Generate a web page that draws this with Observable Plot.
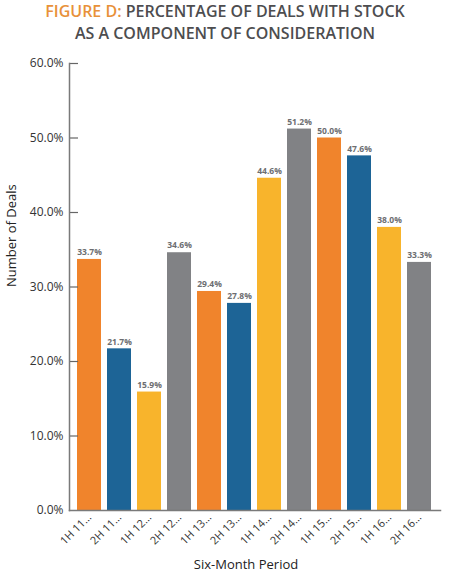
<!DOCTYPE html>
<html>
<head>
<meta charset="utf-8">
<script src="https://cdn.jsdelivr.net/npm/d3@7"></script>
<script src="https://cdn.jsdelivr.net/npm/@observablehq/plot@0.6"></script>
<style>
  html, body { margin: 0; padding: 0; background: #fff; }
  #title { height: 50px; box-sizing: border-box; padding-top: 0px; text-align: center;
    font-family: "Open Sans", sans-serif; font-weight: 600; font-size: 16px; color: #4d4d4f; }
  #title div { line-height: 22px; height: 22px; }
  #title .fig { color: #e8913a; }
</style>
</head>
<body>
<div id="title"><div><span class="fig">FIGURE D:</span> PERCENTAGE OF DEALS WITH STOCK</div><div>AS A COMPONENT OF CONSIDERATION</div></div>
<div id="chart"></div>
<script>
const periods = ["1H 11", "2H 11", "1H 12", "2H 12", "1H 13", "2H 13", "1H 14", "2H 14", "1H 15", "2H 15", "1H 16", "2H 16"];
const tickLabels = ["1H 11…", "2H 11…", "1H 12…", "2H 12…", "1H 13…", "2H 13…", "1H 14…", "2H 14…", "1H 15…", "2H 15…", "1H 16…", "2H 16…"];
const values = [33.7, 21.7, 15.9, 34.6, 29.4, 27.8, 44.6, 51.2, 50.0, 47.6, 38.0, 33.3];
const barColors = ["#f0842c", "#1d6496", "#f8b42c", "#818285", "#f0842c", "#1d6496", "#f8b42c", "#818285", "#f0842c", "#1d6496", "#f8b42c", "#818285"];
const yTicks = [0, 10, 20, 30, 40, 50, 60];
const yTitle = "Number of Deals";
const xTitle = "Six-Month Period";

const data = periods.map((p, i) => ({period: p, value: values[i], color: barColors[i]}));
const labelOf = new Map(periods.map((p, i) => [p, tickLabels[i]]));

const W = 450, H = 531, mL = 69, mR = 10;
const plot = Plot.plot({
  width: W,
  height: H,
  marginTop: 13,
  marginBottom: 71,
  marginLeft: mL,
  marginRight: mR,
  style: {fontFamily: "Open Sans, sans-serif", color: "#333"},
  x: {domain: periods, paddingInner: 0.19, paddingOuter: 0.11, label: null},
  y: {domain: [0, 60], label: null},
  marks: [
    Plot.barY(data, {x: "period", y: "value", fill: "color"}),
    Plot.text(data, {x: "period", y: "value", text: d => d.value.toFixed(1) + "%", dy: -7,
      fontSize: 8.5, fontWeight: "bold", fill: "#6d6e71"}),
    Plot.axisY(yTicks, {tickSize: 0, tickPadding: 6, tickFormat: d => d.toFixed(1) + "%", fontSize: 12, fill: "#333", label: null}),
    Plot.tickY(yTicks.slice(1), {y: d => d, stroke: "#666", strokeWidth: 1.2, insetRight: W - mL - mR - 9}),
    Plot.axisX(periods, {tickSize: 0, tickPadding: 5, tickRotate: -45, tickFormat: d => labelOf.get(d), fontSize: 11, fill: "#333", label: null}),
    Plot.text([yTitle], {frameAnchor: "left", rotate: -90, dx: -58, fontSize: 13, fill: "#222"}),
    Plot.text([xTitle], {frameAnchor: "bottom", dy: 58, dx: -9, fontSize: 13, fill: "#222"}),
    Plot.frame({anchor: "left", stroke: "#7a7a7a", strokeWidth: 1.5}),
    Plot.frame({anchor: "bottom", stroke: "#7a7a7a", strokeWidth: 1.5})
  ]
});
document.getElementById("chart").appendChild(plot);
</script>
</body>
</html>
